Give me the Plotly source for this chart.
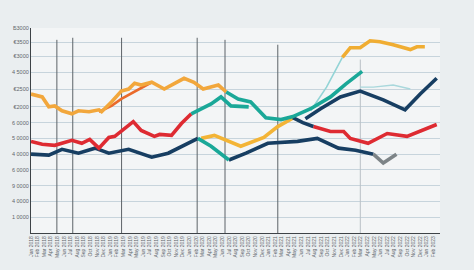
import plotly.graph_objects as go

# ---- data (period index, value) ----
orange_a_x = [0, 1.7, 2.7, 3.6, 4.7, 6.2, 7.2, 8.8, 10.3, 10.7, 12.2, 13.7, 14.8, 15.7, 16.7, 18.3, 20.2, 22.8, 23.2, 24.7, 26.1, 28.4, 29.6]
orange_a_y = [8.81, 8.63, 8.0, 8.06, 7.75, 7.56, 7.75, 7.69, 7.81, 7.69, 8.31, 9.0, 9.13, 9.5, 9.38, 9.56, 9.13, 9.69, 9.81, 9.56, 9.13, 9.38, 8.94]

redorange_x = [10.3, 12.2, 13.7, 15.7, 18.3]
redorange_y = [7.69, 8.06, 8.5, 8.94, 9.56]

teal_a_x = [29.6, 31.4, 33.3, 35.6, 37.9, 39.7, 42.4, 45.4, 47.7, 50.2]
teal_a_y = [8.94, 8.5, 8.31, 7.31, 7.19, 7.38, 7.88, 8.63, 9.44, 10.25]

teal_b_x = [24.3, 25.3, 27.3, 28.8, 30.3, 33.0]
teal_b_y = [7.56, 7.75, 8.19, 8.63, 8.06, 8.0]

teal_c_x = [25.3, 27.3, 30.0]
teal_c_y = [6.0, 5.5, 4.63]

red_a_x = [0, 1.7, 3.6, 6.2, 7.7, 8.9, 10.3, 11.8, 12.7, 15.5, 16.7, 18.7, 19.5, 21.3, 22.8, 24.3]
red_a_y = [5.81, 5.63, 5.56, 5.88, 5.69, 5.94, 5.38, 6.06, 6.13, 7.06, 6.5, 6.13, 6.25, 6.19, 6.94, 7.56]

red_b_x = [42.8, 45.4, 47.4, 48.4, 51.1, 54.0, 57.0, 61.5]
red_b_y = [6.75, 6.44, 6.44, 6.0, 5.69, 6.31, 6.13, 6.88]

navy_a_x = [0, 2.7, 4.7, 7.2, 9.7, 11.8, 14.8, 18.3, 20.8, 22.8, 25.3]
navy_a_y = [5.0, 4.94, 5.31, 5.06, 5.38, 5.06, 5.31, 4.81, 5.06, 5.5, 6.0]

navy_b_x = [30.0, 32.6, 35.9, 40.4, 43.4, 46.6, 49.2, 51.9]
navy_b_y = [4.63, 5.06, 5.69, 5.81, 6.0, 5.38, 5.25, 5.0]

grey_x = [51.9, 53.4, 55.4]
grey_y = [5.0, 4.44, 5.0]

navy_c_x = [41.6, 43.9, 46.9, 49.9, 53.4, 56.7, 59.0, 61.5]
navy_c_y = [7.25, 7.88, 8.63, 9.0, 8.44, 7.81, 8.81, 9.81]

navy_d_x = [39.7, 41.2, 42.8]
navy_d_y = [7.31, 7.0, 6.75]

orange_b_x = [25.8, 27.8, 31.8, 35.3, 37.4, 39.8]
orange_b_y = [6.0, 6.19, 5.5, 6.06, 6.75, 7.31]

orange_c_x = [47.2, 48.4, 49.9, 51.4, 52.9, 54.9, 57.5, 58.5, 59.7]
orange_c_y = [11.13, 11.75, 11.75, 12.19, 12.13, 11.94, 11.63, 11.81, 11.81]

thin_a_x = [42.4, 44.8, 47.2]
thin_a_y = [7.75, 9.25, 11.13]
thin_b_x = [49.9, 51.9, 54.9, 57.5]
thin_b_y = [9.25, 9.25, 9.38, 9.13]

y_tickvals = [1, 2, 3, 4, 5, 6, 7, 8, 9.1, 10.2, 11.2, 12.1, 13]
y_ticktext = ["1 0000", "4 0000", "9 0000", "6 0000", "4 0000", "5 0000", "6 0000",
              "€2000", "€2500", "4 5000", "€3000", "€3500", "Б3000"]

months = ["Jan", "Feb", "Mar", "Apr", "May", "Jun", "Jul", "Aug", "Sep", "Oct", "Nov", "Dec"]
x_tickvals = list(range(62))
x_ticktext = [f"{months[i % 12]} {2018 + i // 12}" for i in x_tickvals]

vlines_x = [3.92, 6.33, 13.73, 25.19, 29.41, 37.41, 49.92]
vlines_top = [12.25, 12.38, 12.38, 12.38, 12.25, 11.94, 11.0]

end_labels = ["6320", "a| 20 000", "48 397", "€ 1/05"]
end_x = [63.5, 65.0, 63.2, 64.7]
end_y = [11.31, 9.63, 8.38, 7.56]
end_colors = ["#e3a23c", "#d9a645", "#d0343a", "#333a40"]

# ---- figure ----
fig = go.Figure()

def add(x, y, color, width=3.6):
    fig.add_trace(go.Scatter(x=x, y=y, mode="lines", line=dict(color=color, width=width),
                             showlegend=False, hoverinfo="skip"))

add(thin_a_x, thin_a_y, "#93d4d6", 1.6)
add(thin_b_x, thin_b_y, "#a9d8dc", 1.4)
add(orange_b_x, orange_b_y, "#f3b436")
add(navy_a_x, navy_a_y, "#173e62")
add(navy_b_x, navy_b_y, "#173e62")
add(grey_x, grey_y, "#7d8487")
add(red_a_x, red_a_y, "#de2b32")
add(red_b_x, red_b_y, "#de2b32")
add(navy_d_x, navy_d_y, "#173e62")
add(redorange_x, redorange_y, "#ea6a2a", 2.6)
add(orange_a_x, orange_a_y, "#f2a73c")
add(orange_c_x, orange_c_y, "#f0ad32")
add(teal_c_x, teal_c_y, "#1aa898")
add(teal_b_x, teal_b_y, "#1aa898")
add(teal_a_x, teal_a_y, "#1aa898")
add(navy_c_x, navy_c_y, "#173e62")

for xv, top in zip(vlines_x, vlines_top):
    col = "#b8c0c6" if top < 11.5 else "#5d6368"
    fig.add_shape(type="line", x0=xv, x1=xv, y0=0, y1=top, xref="x", yref="y",
                  line=dict(color=col, width=1), layer="between")

for t, xv, yv, c in zip(end_labels, end_x, end_y, end_colors):
    fig.add_annotation(x=xv, y=yv, text=t, showarrow=False, xref="x", yref="y",
                       font=dict(size=6, color=c, family="Liberation Sans"))

fig.update_layout(
    width=474, height=270,
    margin=dict(l=29, r=34, t=28, b=34),
    paper_bgcolor="#eaeef0",
    plot_bgcolor="#f3f5f6",
    font=dict(family="Liberation Sans", size=5, color="#555c62"),
)
fig.update_xaxes(range=[0, 62], tickvals=x_tickvals, ticktext=x_ticktext, tickangle=-90,
                 showgrid=False, zeroline=False, showline=True, linecolor="#3e4347",
                 linewidth=1.2, tickfont=dict(size=5, color="#5f666b"), ticks="")
fig.update_yaxes(range=[0, 13], tickvals=y_tickvals, ticktext=y_ticktext,
                 showgrid=True, gridcolor="#c7d4dc", gridwidth=1, zeroline=False,
                 showline=True, linecolor="#3e4347", linewidth=1.2,
                 tickfont=dict(size=5.5, color="#5f666b"), ticks="")

fig.write_html("out.html")
